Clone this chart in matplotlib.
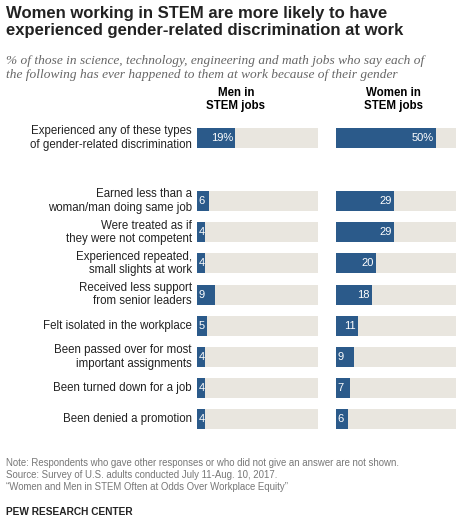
import matplotlib.pyplot as plt

categories = ['Experienced any of these types\nof gender-related discrimination',
              'Earned less than a\nwoman/man doing same job',
              'Were treated as if\nthey were not competent',
              'Experienced repeated,\nsmall slights at work',
              'Received less support\nfrom senior leaders',
              'Felt isolated in the workplace',
              'Been passed over for most\nimportant assignments',
              'Been turned down for a job',
              'Been denied a promotion']
men = [19, 6, 4, 4, 9, 5, 4, 4, 4]
women = [50, 29, 29, 20, 18, 11, 9, 7, 6]

W, H = 474, 525
fig = plt.figure(figsize=(W / 100, H / 100), dpi=100)
plt.rcParams['font.family'] = ['Liberation Sans', 'DejaVu Sans']

blue = '#2b5a8a'
grey = '#e9e6df'

# row centers (pixels from top)
rows = [138] + [201 + 31.2 * i for i in range(8)]
top, bot = 115, 440

def panel(x0, w, vals, inside_right):
    ax = fig.add_axes([x0 / W, 1 - bot / H, w / W, (bot - top) / H])
    ax.set_xlim(0, 60)
    ax.set_ylim(bot, top)
    ax.axis('off')
    ax.barh(rows, [60] * len(rows), height=20, color=grey)
    ax.barh(rows, vals, height=20, color=blue)
    for i, (y, v) in enumerate(zip(rows, vals)):
        s = f'{v}%' if i == 0 else str(v)
        if i == 0 or (inside_right and v >= 11):
            ax.text(v - 1.2, y, s, color='white', fontsize=8, ha='right', va='center')
        else:
            ax.text(0.8, y, s, color='white', fontsize=8, ha='left', va='center')
    return ax

panel(197, 121, men, False)
panel(336, 120, women, True)

for y, c in zip(rows, categories):
    fig.text(192 / W, 1 - y / H, c, ha='right', va='center', fontsize=8.3,
             color='#222222', linespacing=1.15)

fig.text(236 / W, 1 - 112 / H, 'Men in\nSTEM jobs', ha='center', va='bottom',
         fontsize=8.3, fontweight='bold', linespacing=1.1)
fig.text(393 / W, 1 - 112 / H, 'Women in\nSTEM jobs', ha='center', va='bottom',
         fontsize=8.3, fontweight='bold', linespacing=1.1)

fig.text(6 / W, 1 - 6 / H, 'Women working in STEM are more likely to have\n'
         'experienced gender-related discrimination at work',
         ha='left', va='top', fontsize=12, fontweight='bold', color='#222222',
         linespacing=1.2)
fig.text(6 / W, 1 - 55 / H, '% of those in science, technology, engineering and math jobs who say each of\n'
         'the following has ever happened to them at work because of their gender',
         ha='left', va='top', fontsize=9.6, style='italic', color='#666666',
         family=['Liberation Serif', 'DejaVu Serif'], linespacing=1.2)

fig.text(6 / W, 1 - 458 / H, 'Note: Respondents who gave other responses or who did not give an answer are not shown.\n'
         'Source: Survey of U.S. adults conducted July 11-Aug. 10, 2017.\n'
         '\u201cWomen and Men in STEM Often at Odds Over Workplace Equity\u201d',
         ha='left', va='top', fontsize=6.9, color='#777777', linespacing=1.25)
fig.text(6 / W, 1 - 512 / H, 'PEW RESEARCH CENTER', ha='left', va='center',
         fontsize=7.3, fontweight='bold', color='#222222')

fig.savefig('out.png', dpi=100)
